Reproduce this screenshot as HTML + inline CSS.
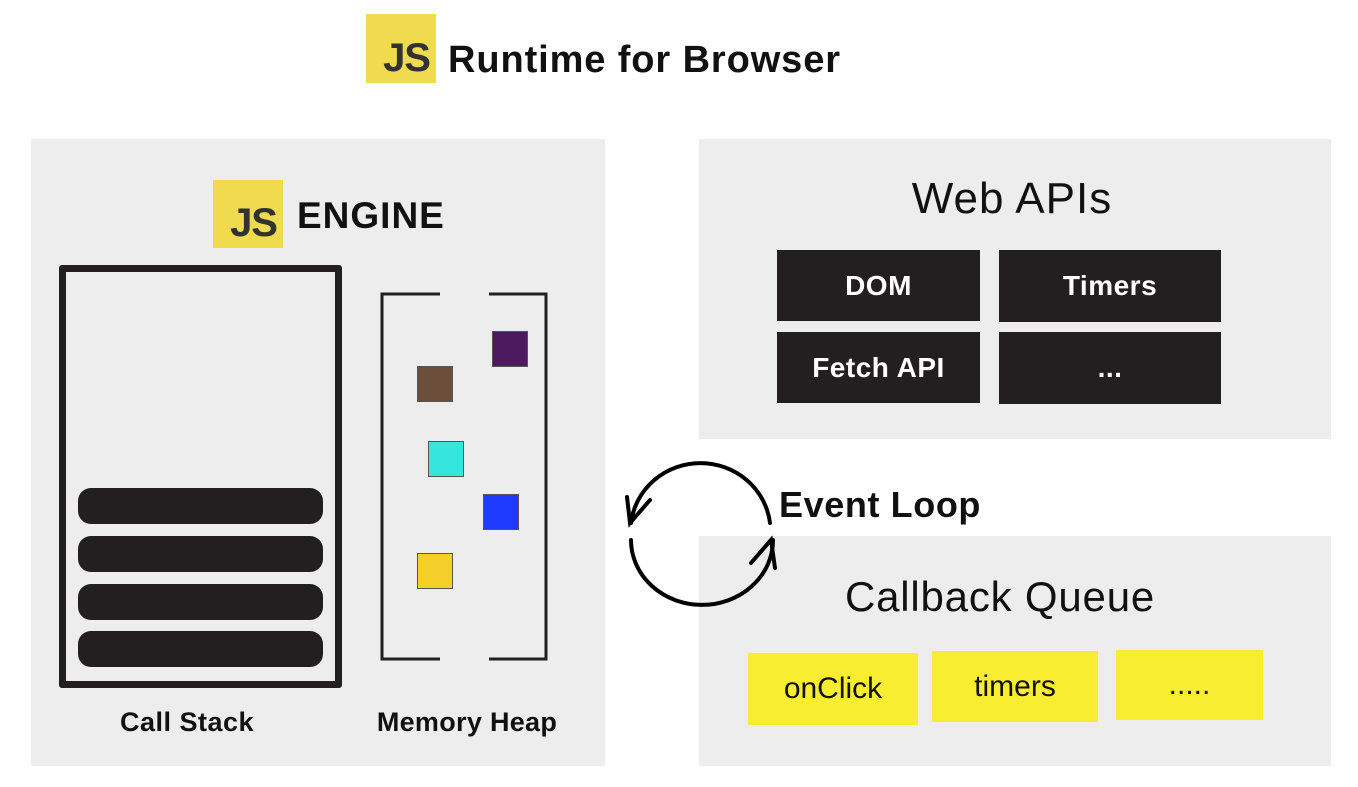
<!DOCTYPE html>
<html><head><style>
body{margin:0;width:1358px;height:787px;background:#fff;position:relative;overflow:hidden;font-family:"Liberation Sans",sans-serif}
div{position:absolute;box-sizing:border-box}
.js{background:#f0db4f;color:#323330;font-weight:bold;display:flex;align-items:flex-end;justify-content:flex-end;padding:0 6px 2px 0;letter-spacing:-1px}
.panel{background:#ededed}
.bar{left:78px;width:245px;height:36px;background:#231f20;border-radius:13px}
.sq{width:36px;height:36px;border:1px solid #555}
.api{background:#231f20;color:#fff;font-weight:bold;font-size:28px;display:flex;align-items:center;justify-content:center;letter-spacing:0.5px}
.st{background:#f9ed32;font-size:30px;display:flex;align-items:center;justify-content:center;color:#111}
.t{white-space:nowrap}
</style></head><body>
<div class="js" style="left:366px;top:14px;width:70px;height:69px;font-size:40px">JS</div>
<div class="t" style="left:448px;top:39px;font-size:38px;font-weight:bold;color:#111;letter-spacing:0.9px">Runtime for Browser</div>

<div class="panel" style="left:31px;top:139px;width:574px;height:627px"></div>
<div class="js" style="left:213px;top:180px;width:70px;height:68px;font-size:40px">JS</div>
<div class="t" style="left:297px;top:195px;font-size:37px;font-weight:bold;color:#111;letter-spacing:1px">ENGINE</div>
<div style="left:59px;top:265px;width:283px;height:423px;border:7px solid #231f20;border-radius:3px"></div>
<div class="bar" style="top:488px"></div>
<div class="bar" style="top:536px"></div>
<div class="bar" style="top:584px"></div>
<div class="bar" style="top:631px"></div>
<div class="sq" style="left:492px;top:331px;background:#4e1a5e"></div>
<div class="sq" style="left:417px;top:366px;background:#6b4f3a"></div>
<div class="sq" style="left:428px;top:441px;background:#36e6dc"></div>
<div class="sq" style="left:483px;top:494px;background:#1f3bff"></div>
<div class="sq" style="left:417px;top:553px;background:#f5d02a"></div>
<div class="t" style="left:87px;top:707px;width:200px;text-align:center;font-size:27px;font-weight:bold;color:#111;letter-spacing:0.5px">Call Stack</div>
<div class="t" style="left:357px;top:707px;width:220px;text-align:center;font-size:27px;font-weight:bold;color:#111;letter-spacing:0.3px">Memory Heap</div>

<div class="panel" style="left:699px;top:139px;width:632px;height:300px"></div>
<div class="t" style="left:862px;top:174px;width:300px;text-align:center;font-size:44px;color:#111;letter-spacing:1px">Web APIs</div>
<div class="api" style="left:777px;top:250px;width:203px;height:71px">DOM</div>
<div class="api" style="left:999px;top:250px;width:222px;height:72px">Timers</div>
<div class="api" style="left:777px;top:332px;width:203px;height:71px">Fetch API</div>
<div class="api" style="left:999px;top:332px;width:222px;height:72px">...</div>

<div class="panel" style="left:699px;top:536px;width:632px;height:230px"></div>
<div class="t" style="left:779px;top:484px;font-size:36px;font-weight:bold;color:#111;letter-spacing:0.6px">Event Loop</div>
<div class="t" style="left:800px;top:573px;width:400px;text-align:center;font-size:42px;color:#111;letter-spacing:0.8px">Callback Queue</div>
<div class="st" style="left:748px;top:653px;width:170px;height:72px">onClick</div>
<div class="st" style="left:932px;top:651px;width:166px;height:71px">timers</div>
<div class="st" style="left:1116px;top:650px;width:147px;height:70px">.....</div>
<svg style="position:absolute;left:0;top:0" width="1358" height="787">
<path d="M440 294 H382 V659 H440 M489 294 H546 V659 H489" fill="none" stroke="#231f20" stroke-width="3"/>
<path d="M631 523 A70 68 0 0 1 770 523" fill="none" stroke="#000" stroke-width="4" stroke-linecap="round"/>
<path d="M627 497 L630 523 L650 500" fill="none" stroke="#000" stroke-width="4" stroke-linecap="round"/>
<path d="M631 540 A70 64 0 0 0 773 540" fill="none" stroke="#000" stroke-width="4" stroke-linecap="round"/>
<path d="M751 563 L771 540 L775 568" fill="none" stroke="#000" stroke-width="4" stroke-linecap="round"/>
</svg>
</body></html>
